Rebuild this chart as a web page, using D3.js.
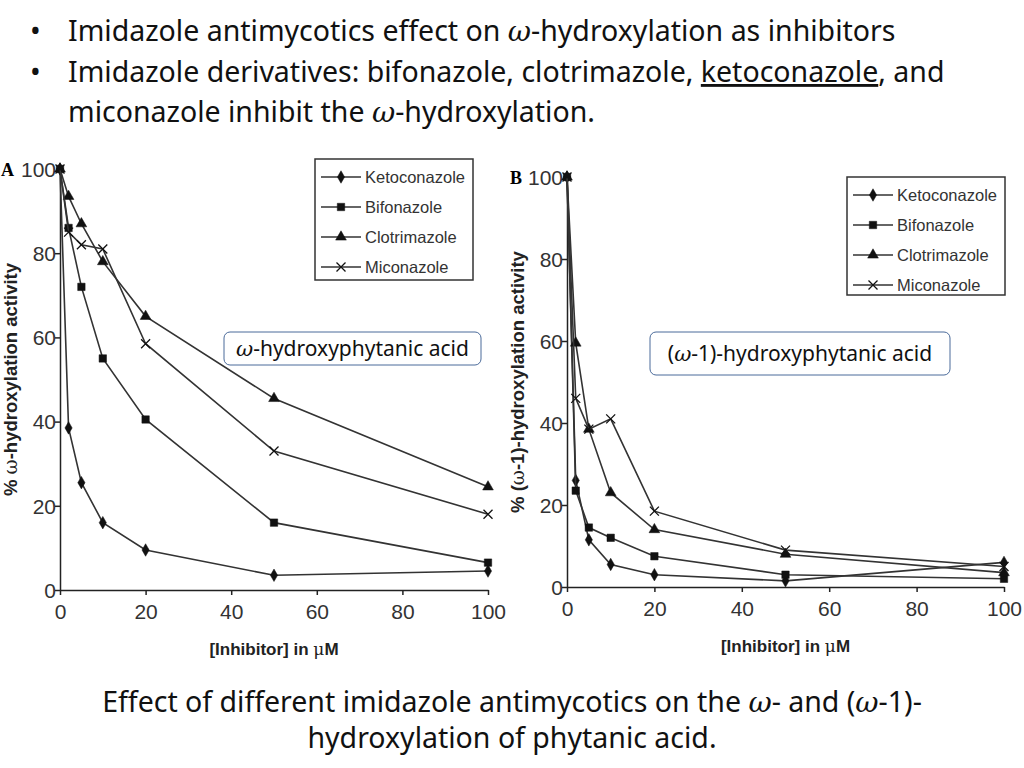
<!DOCTYPE html><html><head><meta charset="utf-8">
<script src="https://cdn.jsdelivr.net/npm/d3@7"></script>
<style>body{margin:0;background:#fff}svg{display:block}</style></head><body>
<svg id="s" width="1024" height="768"></svg>
<script>
const xs=[0,2,5,10,20,50,100];
const names=["Ketoconazole","Bifonazole","Clotrimazole","Miconazole"];
const symbols=["diamond","square","triangle","cross"];
const A_keto=[100,38.5,25.5,16,9.5,3.5,4.5];
const A_bifo=[100,86,72,55,40.5,16,6.5];
const A_clot=[100,93.5,87,78,65,45.5,24.5];
const A_mico=[100,85,82,81,58.5,33,18];
const B_keto=[100,26,11.5,5.5,3,1.5,6];
const B_bifo=[100,23.5,14.5,12,7.5,3,2];
const B_clot=[100,59.5,38.5,23,14,8,3.5];
const B_mico=[100,46,38.5,41,18.5,9,5];
const xTicks=[0,20,40,60,80,100], yTicks=[0,20,40,60,80,100];

const svg=d3.select("#s");
const F="'Liberation Sans',Arial,sans-serif";
const T="'Noto Sans','Open Sans',sans-serif";
const W="<tspan font-style='italic' font-family='DejaVu Serif'>ω</tspan>";
function ht(x,y,html,anchor){return svg.append("text").attr("font-family",T).attr("font-size",28.5).attr("fill","#111").attr("x",x).attr("y",y).attr("text-anchor",anchor||"start").html(html);}
ht(30,41,"•");ht(68,41,"Imidazole antimycotics effect on "+W+"-hydroxylation as inhibitors");
ht(30,82,"•");ht(68,82,"Imidazole derivatives: bifonazole, clotrimazole, <tspan text-decoration='underline'>ketoconazole</tspan>, and");
ht(68,122,"miconazole inhibit the "+W+"-hydroxylation.");
ht(512,712,"Effect of different imidazole antimycotics on the "+W+"- and ("+W+"-1)-","middle");
ht(512,748,"hydroxylation of phytanic acid.","middle");

function symbolOf(k){
  if(k==="diamond")return d3.symbol(d3.symbolDiamond,45)();
  if(k==="square")return d3.symbol(d3.symbolSquare,55)();
  if(k==="triangle")return d3.symbol(d3.symbolTriangle,50)();
  return "M-4.5,-4.5L4.5,4.5M-4.5,4.5L4.5,-4.5";
}
function panel(o){
  const x=d3.scaleLinear([0,100],[o.x0,o.x1]);
  const y=d3.scaleLinear([0,100],[o.y0,o.y1]);
  const g=svg.append("g");
  const ax=g.append("g").attr("transform",`translate(0,${o.y0})`).call(d3.axisBottom(x).tickValues(xTicks).tickSize(5).tickSizeOuter(0));
  const ay=g.append("g").attr("transform",`translate(${o.x0},0)`).call(d3.axisLeft(y).tickValues(yTicks).tickSize(5).tickSizeOuter(0));
  [ax,ay].forEach(a=>{a.attr("font-size",null).attr("font-family",null);a.selectAll("path,line").attr("stroke","#222").attr("stroke-width",1.5);
    a.selectAll("text").style("font-family",F).style("font-size","21px").attr("fill","#333");});
  ax.selectAll("text").attr("dy","1.0em");
  ay.selectAll("text").attr("x",-4).attr("dy","0.35em");
  ay.select(".tick:last-of-type line").remove();
  g.append("text").attr("x",o.labx).attr("y",o.y1+7).attr("font-family","'Liberation Serif',serif").attr("font-weight","bold").attr("font-size",18).text(o.lab);
  g.append("text").attr("font-family",F).attr("font-weight","bold").attr("font-size",17).attr("fill","#222")
   .attr("x",(o.x0+o.x1)/2).attr("y",o.y0+65).attr("text-anchor","middle").html("[Inhibitor] in <tspan font-family='DejaVu Serif' font-weight='normal'>μ</tspan>M");
  g.append("text").attr("font-family",F).attr("font-weight","bold").attr("font-size",18.5).attr("fill","#222")
   .attr("transform",`translate(${o.x0-43},${(o.y0+o.y1)/2}) rotate(-90)`).attr("text-anchor","middle").html(o.ylab);
  const line=d3.line().x((d,i)=>x(xs[i])).y(d=>y(d));
  o.series.forEach((s,k)=>{
    g.append("path").attr("d",line(s)).attr("fill","none").attr("stroke","#333").attr("stroke-width",1.6);
    s.forEach((v,i)=>g.append("path").attr("d",symbolOf(symbols[k])).attr("transform",`translate(${x(xs[i])},${y(v)})`)
      .attr("fill","#111").attr("stroke","#111").attr("stroke-width",k===3?1.3:0.5));
  });
  const L=o.leg;
  g.append("rect").attr("x",L.x).attr("y",L.y).attr("width",L.w).attr("height",L.h).attr("fill","#fff").attr("stroke","#333").attr("stroke-width",1.5);
  names.forEach((n,k)=>{
    const yy=L.y+18+k*30;
    g.append("line").attr("x1",L.x+6).attr("x2",L.x+46).attr("y1",yy).attr("y2",yy).attr("stroke","#333").attr("stroke-width",1.5);
    g.append("path").attr("d",symbolOf(symbols[k])).attr("transform",`translate(${L.x+26},${yy})`).attr("fill","#111").attr("stroke","#111").attr("stroke-width",k===3?1.3:0.5);
    g.append("text").attr("x",L.x+50).attr("y",yy+6).attr("font-family",F).attr("font-size",16.5).attr("fill","#333").text(n);
  });
  const N=o.note;
  g.append("rect").attr("x",N.x).attr("y",N.y).attr("width",N.w).attr("height",N.h).attr("rx",6).attr("fill","#fff").attr("stroke","#4a6a9a").attr("stroke-width",1);
  g.append("text").attr("x",N.x+N.w/2).attr("y",N.y+N.h/2+7).attr("text-anchor","middle").attr("font-family",T).attr("font-size",21).attr("fill","#111").html(N.t);
}
panel({x0:60,x1:488,y0:590,y1:169,lab:"A",labx:1,ylab:"% <tspan font-family='DejaVu Serif' font-weight='normal'>ω</tspan>-hydroxylation activity",
  series:[A_keto,A_bifo,A_clot,A_mico],leg:{x:315,y:159,w:158,h:121},
  note:{x:224,y:332,w:257,h:33,t:W+"-hydroxyphytanic acid"}});
panel({x0:567,x1:1004,y0:587,y1:177,lab:"B",labx:510,ylab:"% (<tspan font-family='DejaVu Serif' font-weight='normal'>ω</tspan>-1)-hydroxylation activity",
  series:[B_keto,B_bifo,B_clot,B_mico],leg:{x:847,y:177,w:158,h:118},
  note:{x:650,y:332,w:300,h:43,t:"("+W+"-1)-hydroxyphytanic acid"}});
</script></body></html>
